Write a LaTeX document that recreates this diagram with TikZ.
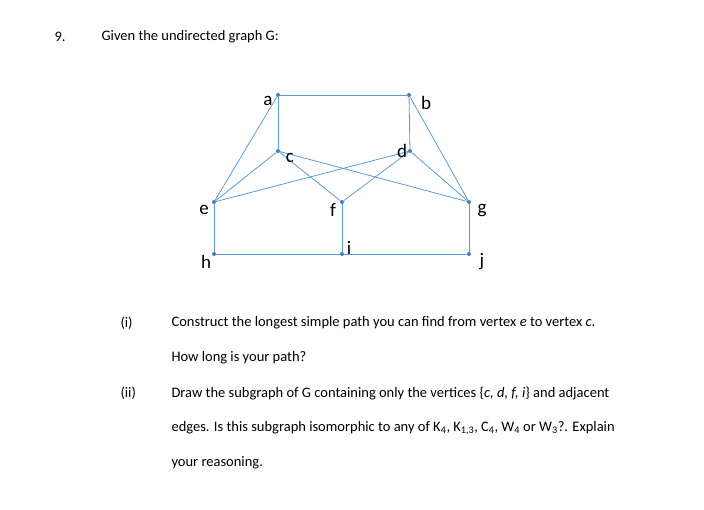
\documentclass[tikz,border=0pt]{standalone}
\usepackage{fontspec}
\setmainfont{Carlito}
\definecolor{edgec}{HTML}{5B9BD5}
\definecolor{vertc}{HTML}{4A7EBB}
\begin{document}
\begin{tikzpicture}[x=1pt,y=-1pt,
  v/.style={circle,fill=vertc,inner sep=0pt,minimum size=4pt},
  e/.style={draw=edgec,line width=0.8pt},
  lab/.style={font=\fontsize{19}{19}\selectfont},
  txt/.style={anchor=west,font=\fontsize{14.5}{16}\selectfont}]
\useasboundingbox (0,0) rectangle (704,509);
\node[v] (a) at (278,95) {};
\node[v] (b) at (409,95) {};
\node[v] (c) at (278,151) {};
\node[v] (d) at (410,151) {};
\node[v] (e) at (214,202) {};
\node[v] (f) at (342,202) {};
\node[v] (g) at (469,202) {};
\node[v] (h) at (214,254) {};
\node[v] (i) at (342,254) {};
\node[v] (j) at (469,254) {};
\foreach \p/\q in {a/b,a/c,a/e,b/d,b/g,c/e,c/f,c/g,d/e,d/f,d/g,e/h,f/i,h/i,i/j,g/j}
  \draw[e] (\p) -- (\q);
\node[lab] (la) at (268,101) {a};
\node[lab] (lb) at (426,103) {b};
\node[lab] (lc) at (290,158) {c};
\node[lab] (ld) at (402,151) {d};
\node[lab] (le) at (204,210) {e};
\node[lab] (lf) at (333,210) {f};
\node[lab] (lg) at (482,211) {g};
\node[lab] (lh) at (206,262) {h};
\node[lab] (li) at (349,248) {i};
\node[lab] (lj) at (482,262) {j};
\node[txt] (t0) at (51,37) {9.};
\node[txt] (t1) at (98,37) {Given the undirected graph G:};
\node[txt] (r1) at (117,323) {(i)};
\node[txt] (s1) at (168,323) {Construct the longest simple path you can find from vertex \textit{e} to vertex \textit{c}.};
\node[txt] (s2) at (168,358) {How long is your path?};
\node[txt] (r2) at (117,393) {(ii)};
\node[txt] (s3) at (168,393) {Draw the subgraph of G containing only the vertices \{\textit{c, d, f, i}\} and adjacent};
\node[txt] (s4) at (168,428) {edges. Is this subgraph isomorphic to any of K\textsubscript{4}, K\textsubscript{1,3}, C\textsubscript{4}, W\textsubscript{4} or W\textsubscript{3}?. Explain};
\node[txt] (s5) at (168,463) {your reasoning.};
\end{tikzpicture}
\end{document}
